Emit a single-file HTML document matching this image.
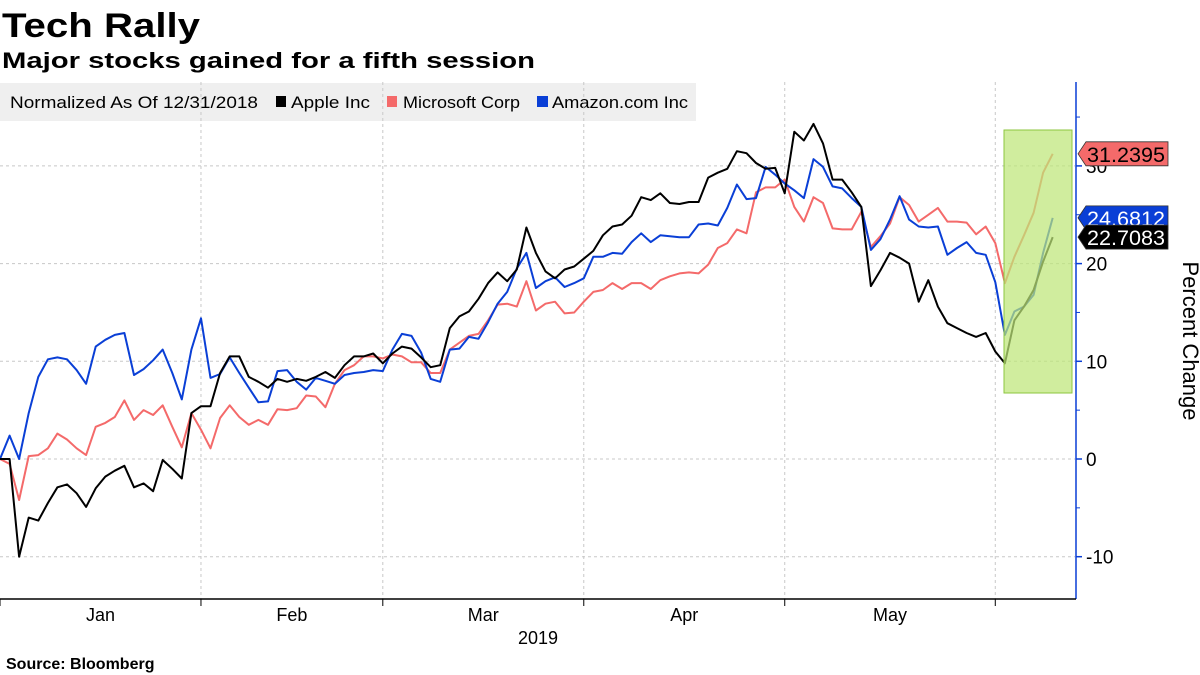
<!DOCTYPE html>
<html><head><meta charset="utf-8"><style>
html,body{margin:0;padding:0;background:#fff;}
svg{display:block;font-family:"Liberation Sans",sans-serif;}
</style></head><body>
<svg id="chart" width="1200" height="675" viewBox="0 0 1200 675" xmlns="http://www.w3.org/2000/svg">
<text x="2" y="37" font-size="34" font-weight="bold" textLength="198" lengthAdjust="spacingAndGlyphs">Tech Rally</text>
<text x="2" y="68" font-size="22" font-weight="bold" textLength="533" lengthAdjust="spacingAndGlyphs">Major stocks gained for a fifth session</text>
<g>
<rect x="0" y="83" width="696" height="38" fill="#efefef"/>
<text x="10" y="108" font-size="17" textLength="248" lengthAdjust="spacingAndGlyphs">Normalized As Of 12/31/2018</text>
<g><rect x="276" y="96" width="10" height="11" fill="#000"/><text x="291" y="108" font-size="17" textLength="79" lengthAdjust="spacingAndGlyphs">Apple Inc</text></g>
<g><rect x="387" y="96" width="10" height="11" fill="#f46a6a"/><text x="403" y="108" font-size="17" textLength="117" lengthAdjust="spacingAndGlyphs">Microsoft Corp</text></g>
<g><rect x="537" y="96" width="11" height="11" fill="#0a3fd6"/><text x="552" y="108" font-size="17" textLength="136" lengthAdjust="spacingAndGlyphs">Amazon.com Inc</text></g>
</g>
<g id="grid"></g>
<g id="series"></g>
<rect x="1004" y="130" width="68" height="263" fill="rgba(190,230,120,0.72)" stroke="#8cc63f" stroke-width="1"/>
<g id="axes"></g>
<text transform="translate(1183,341) rotate(90)" font-size="22" text-anchor="middle">Percent Change</text>
<text x="538" y="644" font-size="18" text-anchor="middle">2019</text>
<text x="6" y="669" font-size="16" font-weight="bold">Source: Bloomberg</text>
<g id="tags"></g>
</svg>
<script>
const apple=[0,0,-10,-6,-6.3,-4.5,-2.9,-2.6,-3.5,-4.9,-3,-1.8,-1.2,-0.7,-2.9,-2.5,-3.3,-0.1,-1,-2,4.7,5.4,5.4,8.8,10.5,10.5,8.4,7.9,7.3,8.2,7.9,8.2,8,8.4,8.9,8.3,9.6,10.5,10.5,10.8,9.8,10.8,11.5,11.3,10.4,9.4,9.6,13.4,14.6,15.1,16.4,18,19.1,18.2,19.4,23.7,21.1,19.2,18.5,19.4,19.7,20.5,21.3,22.9,23.8,24,24.9,26.8,26.5,27.2,26.2,26.1,26.3,26.3,28.8,29.3,29.7,31.5,31.3,30.3,29.7,29.8,27.2,33.5,32.6,34.3,32.3,28.6,28.6,27.3,25.8,17.7,19.3,21.1,20.6,20,16.1,18.3,15.6,13.9,13.4,12.9,12.5,12.9,11,9.8,14.2,15.6,17.3,20.2,22.7083];
const microsoft=[0,-0.5,-4.2,0.3,0.4,1.1,2.6,2,1.1,0.4,3.3,3.7,4.3,6,4,5,4.5,5.5,3.3,1.2,4.7,3,1.1,4.2,5.5,4.3,3.5,4,3.5,5.1,5,5.2,6.5,6.4,5.3,7.7,9.1,9.6,10.5,10.5,10.3,10.7,10.5,9.9,9.9,8.8,8.8,11.2,11.9,12.6,12.8,14.2,15.8,15.9,15.6,18.2,15.2,15.9,16.1,14.9,15,16.1,17.1,17.3,18,17.4,18,18,17.4,18.3,18.7,19,19.1,19,19.9,21.6,22.1,23.5,23.1,27.3,27.8,27.8,28.6,25.8,24.3,26.8,26.2,23.6,23.5,23.5,25.3,21.7,22.8,24.1,26.8,26,24.3,25,25.7,24.3,24.3,24.2,23,23.8,22.1,18,20.7,22.9,25.2,29.3,31.2395];
const amazon=[0,2.4,0,4.7,8.4,10.2,10.4,10.2,9.1,7.7,11.5,12.2,12.7,12.9,8.6,9.2,10.1,11.2,8.8,6.1,11.2,14.4,8.3,8.7,10.4,8.8,7.3,5.8,5.9,9,9.1,7.9,7.1,8.3,8,7.7,8.6,8.8,8.9,9.1,9,11.2,12.8,12.6,10.9,8.2,7.9,11.2,11.3,12.5,12.3,14,15.9,17.1,19.5,21.1,17.5,18.2,18.6,17.6,18,18.5,20.7,20.7,21.1,21,22.2,23.1,22.2,22.9,22.8,22.7,22.7,24,24.1,23.9,25.7,28.1,26.6,26.7,29.9,29.1,28.2,27.5,26.7,30.7,29.9,27.9,27.7,26.7,25.8,21.4,22.5,24.5,26.9,24.5,23.8,23.7,23.8,20.9,21.6,22.2,21.1,20.9,18.1,12.7,15.1,15.6,16.8,21.1,24.6812];
const yTicks=[-10,0,10,20,30];
const monthLabels=["Jan","Feb","Mar","Apr","May"];
const monthBoundaries=[0,21,40,61,82,104];

const NS="http://www.w3.org/2000/svg";
const X0=0,STEP=1052.7/110;
const xs=i=>X0+i*STEP;
const ys=v=>459-v*9.77;
function mk(tag,attrs,parent){const e=document.createElementNS(NS,tag);for(const k in attrs)e.setAttribute(k,attrs[k]);parent.appendChild(e);return e;}
const grid=document.getElementById('grid'),axes=document.getElementById('axes'),series=document.getElementById('series'),tags=document.getElementById('tags');
yTicks.forEach(v=>{
  const l=mk('line',{x1:0,x2:1075,y1:ys(v),y2:ys(v),stroke:'#c8c8c8','stroke-dasharray':'3,3','stroke-width':1},grid);
  
  
  const t=mk('line',{x1:1076,x2:1082,y1:ys(v),y2:ys(v),stroke:'#0a3fd6','stroke-width':1.5},axes);
  
  
  const tx=mk('text',{x:1086,y:ys(v)+7,'font-size':19},axes);
  tx.textContent=String(v);
  
  
});
for(let v=-5;v<=35;v+=10){
  const t=mk('line',{x1:1076,x2:1080,y1:ys(v),y2:ys(v),stroke:'#0a3fd6','stroke-width':1},axes);
  
  
}
const ya=mk('line',{x1:1076,x2:1076,y1:82,y2:599,stroke:'#0a3fd6','stroke-width':1.5},axes);


const xa=mk('line',{x1:0,x2:1076,y1:599,y2:599,stroke:'#000','stroke-width':1.5},axes);


monthBoundaries.forEach((b,k)=>{
  const x=xs(b);
  if(k>0){const g=mk('line',{x1:x,x2:x,y1:82,y2:599,stroke:'#c8c8c8','stroke-dasharray':'3,3','stroke-width':1},grid);
  
  }
  const t=mk('line',{x1:x,x2:x,y1:599,y2:606,stroke:'#000','stroke-width':1},axes);
  
  
  if(k<monthLabels.length){
    const tx=mk('text',{x:(x+xs(monthBoundaries[k+1]))/2,y:621,'font-size':18,'text-anchor':'middle'},axes);
    tx.textContent=monthLabels[k];
    
    
  }
});
function draw(arr,color,name){
  const p=mk('polyline',{points:arr.map((v,i)=>xs(i).toFixed(1)+','+ys(v).toFixed(1)).join(' '),fill:'none',stroke:color,'stroke-width':2,'stroke-linejoin':'round'},series);
  
  
}
draw(microsoft,'#f46a6a','microsoft-line');
draw(amazon,'#0a3fd6','amazon-line');
draw(apple,'#000','apple-line');
function tag(v,bg,fg,name,dy){
  const y=ys(v)+dy;
  const g=mk('g',{},tags);
  
  
  mk('path',{d:`M1078 ${y} L1086 ${y-12} L1168 ${y-12} L1168 ${y+12} L1086 ${y+12} Z`,fill:bg,stroke:'#333','stroke-width':0.8},g);
  const t=mk('text',{x:1087,y:y+8,'font-size':21,fill:fg,textLength:78,lengthAdjust:'spacingAndGlyphs'},g);
  t.textContent=v.toFixed(4);
}
tag(amazon[amazon.length-1],'#0a3fd6','#fff','amazon-value-tag',0);
tag(apple[apple.length-1],'#000','#fff','apple-value-tag',0);
tag(microsoft[microsoft.length-1],'#f46a6a','#000','microsoft-value-tag',0);
</script>
</body></html>
